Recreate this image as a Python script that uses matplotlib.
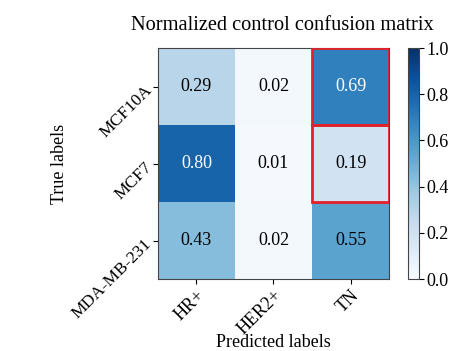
import matplotlib
matplotlib.use("Agg")
import matplotlib.pyplot as plt
import numpy as np
from matplotlib.patches import Rectangle

true_labels = ["MCF10A", "MCF7", "MDA-MB-231"]
pred_labels = ["HR+", "HER2+", "TN"]
values = np.array([
    [0.29, 0.02, 0.69],
    [0.80, 0.01, 0.19],
    [0.43, 0.02, 0.55],
])
highlight = [(0, 2), (1, 2)]

plt.rcParams['font.family'] = ['Liberation Serif', 'DejaVu Serif']

fig = plt.figure(figsize=(4.74, 3.51), dpi=100)
ax = fig.add_axes([0.333, 0.205, 0.488, 0.658])
cax = fig.add_axes([0.861, 0.205, 0.023, 0.658])

im = ax.imshow(values, cmap='Blues', vmin=0, vmax=1, aspect='auto')
for i in range(values.shape[0]):
    for j in range(values.shape[1]):
        v = values[i, j]
        ax.text(j, i, f"{v:.2f}", ha='center', va='center', fontsize=13,
                color='white' if v > 0.6 else 'black')

for (r, c) in highlight:
    ax.add_patch(Rectangle((c - 0.5, r - 0.5), 1, 1, fill=False,
                           edgecolor='#e3202b', linewidth=2, zorder=5))

ax.set_xticks(range(len(pred_labels)))
ax.set_xticklabels(pred_labels, rotation=45, ha='right', rotation_mode='anchor', fontsize=13)
ax.set_yticks(range(len(true_labels)))
ax.set_yticklabels(true_labels, rotation=45, ha='right', rotation_mode='anchor', fontsize=12.5)
ax.tick_params(axis='x', pad=2)
ax.set_xlabel("Predicted labels", fontsize=13, labelpad=-3)
ax.set_ylabel("True labels", fontsize=13, labelpad=1)
ax.set_title("Normalized control confusion matrix", fontsize=14.7, pad=13, x=0.54)
for s in ax.spines.values():
    s.set_color('#444444')

cb = fig.colorbar(im, cax=cax)
cb.set_ticks([0, 0.2, 0.4, 0.6, 0.8, 1.0])
cb.ax.tick_params(labelsize=13, pad=2)
cb.outline.set_edgecolor('#444444')

fig.savefig("out.png", dpi=100)
